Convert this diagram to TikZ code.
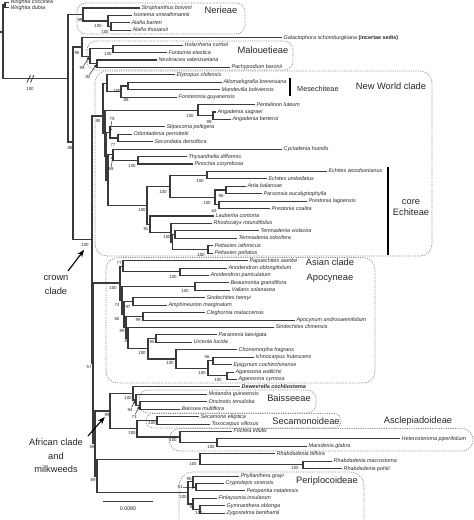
\documentclass[tikz,border=0pt]{standalone}
\usepackage{fontspec}
\setmainfont{Liberation Sans}
\usetikzlibrary{arrows.meta}
\definecolor{ink}{HTML}{262626}
\definecolor{twig}{HTML}{3A3A3A}
\definecolor{hull}{HTML}{8A8A8A}
\tikzset{
  branch/.style={draw=twig,line width=1.1pt},
  taxon/.style={anchor=west,inner sep=1.4pt,text=ink,text height=3.9pt,text depth=1.1pt,font=\fontsize{5.4}{6}\selectfont\itshape},
  bs/.style={inner sep=0pt,text=ink,font=\fontsize{4.4}{5}\selectfont},
  cladebox/.style={draw=hull,line width=0.7pt,dash pattern=on 1.1pt off 1.2pt,rounded corners=9pt},
  cladelbl/.style={inner sep=0pt,text=ink,align=center,font=\fontsize{9.3}{14}\selectfont},
  tribebar/.style={draw=black,line width=1.7pt},
  callout/.style={-{Stealth[length=2.6mm,width=2mm]},line width=1.1pt,draw=black},
  pointer/.style={-{Stealth[length=1.3mm,width=1mm]},line width=0.5pt,draw=ink,shorten <=0.6pt,shorten >=0.5pt},
}
\begin{document}
\begin{tikzpicture}[x=1pt,y=-1pt]
  \useasboundingbox (0,0) rectangle (474,520);
  \clip (0,0) rectangle (474,520);

  % clade hulls
  \draw[cladebox] (77,3) rectangle (245,34);
  \draw[cladebox] (87,41) rectangle (293,70);
  \draw[cladebox,rounded corners=12pt] (95,71) rectangle (432,256);
  \draw[cladebox,rounded corners=12pt] (106,257.5) rectangle (375,383);
  \draw[cladebox] (139,390) rectangle (316,413);
  \draw[cladebox,rounded corners=7pt] (146,413.5) rectangle (341,428);
  \draw[cladebox,rounded corners=11pt] (169,428.5) rectangle (473,451);
  \draw[cladebox,rounded corners=14pt] (179,472) rectangle (364,545);

  % outgroup and root
  \coordinate (rt) at (3,32);
  \coordinate (wri) at (5,4.8);
  \node[taxon] (wrco) at (9,2.2) {Wrightia coccinea};
  \node[taxon] (wrdu) at (9,7.8) {Wrightia dubia};
  \coordinate (n0) at (68,78.8);
  \draw[branch] (0,32) -- (rt);
  \draw[branch] (rt) |- (wri) (wri) |- (wrco.west) (wri) |- (wrdu.west);
  \draw[branch] (rt) |- (n0);
  \draw[twig,line width=0.8pt] (27,82.5) -- (30.5,75) (30.5,82.5) -- (34,75);

  % Nerieae
  \coordinate (ner) at (83,14.5);
  \coordinate (ia) at (108,21);
  \coordinate (ala) at (111,26.6);
  \node[taxon] (stro) at (140,8.0) {Strophanthus boivinii};
  \node[taxon] (ison) at (132,15.4) {Isonema smeathmannii};
  \node[taxon] (alba) at (130,22.9) {Alafia barteri};
  \node[taxon] (alth) at (131,30.3) {Alafia thouarsii};
  \coordinate (n1) at (73,142);
  \draw[branch] (n0) |- (ner) (n0) |- (n1);
  \draw[branch] (ner) |- (stro.west) (ner) |- (ia) (ia) |- (ison.west) (ia) |- (ala)
    (ala) |- (alba.west) (ala) |- (alth.west);

  % Galactophora and Malouetieae
  \coordinate (n2) at (82,47);
  \coordinate (mal) at (90,56.3);
  \coordinate (hf) at (113,48.9);
  \coordinate (np) at (97,63.7);
  \node[taxon] (gala) at (282,37.7) {Galactophora schomburgkiana \textbf{\upshape(incertae sedis)}};
  \node[taxon] (hola) at (183,45.2) {Holarrhena curtisii};
  \node[taxon] (funt) at (167,52.6) {Funtumia elastica};
  \node[taxon] (neob) at (157,60.0) {Neobracea valenzuelana};
  \node[taxon] (pach) at (230,67.4) {Pachypodium baronii};
  \coordinate (c0) at (92,239.5);
  \draw[branch] (n1) |- (n2) (n1) |- (c0);
  \draw[branch] (n2) |- (gala.west) (n2) |- (mal) (mal) |- (hf) (mal) |- (np)
    (hf) |- (hola.west) (hf) |- (funt.west) (np) |- (neob.west) (np) |- (pach.west);

  % New World clade
  \coordinate (nw0) at (103,116);
  \coordinate (ely) at (107,83.3);
  \coordinate (mf) at (121,91.6);
  \coordinate (mes) at (128,86);
  \coordinate (nwb) at (105,133);
  \coordinate (pena) at (198,110.2);
  \coordinate (ang) at (213,115.7);
  \coordinate (nwc) at (106,156);
  \coordinate (sos) at (110,132.5);
  \coordinate (os) at (118,138);
  \coordinate (nwd) at (108,180);
  \coordinate (ctp) at (113,154.8);
  \coordinate (tp) at (138,160.3);
  \node[taxon] (elyt) at (175,74.9) {Elytropus chilensis};
  \node[taxon] (allo) at (222,82.3) {Allomarkgrafia brenesiana};
  \node[taxon] (mand) at (220,89.7) {Mandevilla boliviensis};
  \node[taxon] (fors) at (177,97.2) {Forsteronia guyanensis};
  \node[taxon] (pent) at (255,104.6) {Pentalinon luteum};
  \node[taxon] (angs) at (216,112.0) {Angadenia sagraei};
  \node[taxon] (angb) at (231,119.5) {Angadenia berteroi};
  \node[taxon] (stip) at (165,126.9) {Stipecoma peltigera};
  \node[taxon] (odon) at (132,134.3) {Odontadenia perrottetii};
  \node[taxon] (seco) at (153,141.7) {Secondatia densiflora};
  \node[taxon] (cycl) at (282,149.2) {Cycladenia humilis};
  \node[taxon] (thys) at (187,156.6) {Thysanthella difformis};
  \node[taxon] (pino) at (193,164.0) {Pinochia corymbosa};
  \draw[branch] (c0) |- (nw0) (nw0) |- (ely) (nw0) |- (nwb);
  \draw[branch] (ely) |- (elyt.west) (ely) |- (mf) (mf) |- (mes) (mf) |- (fors.west)
    (mes) |- (allo.west) (mes) |- (mand.west);
  \draw[branch] (nwb) |- (pena) (nwb) |- (nwc) (pena) |- (pent.west) (pena) |- (ang)
    (ang) |- (angs.west) (ang) |- (angb.west);
  \draw[branch] (nwc) |- (sos) (nwc) |- (nwd) (sos) |- (stip.west) (sos) |- (os)
    (os) |- (odon.west) (os) |- (seco.west);
  \draw[branch] (nwd) |- (ctp) (ctp) |- (cycl.west) (ctp) |- (tp)
    (tp) |- (thys.west) (tp) |- (pino.west);

  % core Echiteae
  \coordinate (ce) at (147,205.4);
  \coordinate (ea) at (170,186.4);
  \coordinate (ee) at (207,175.2);
  \coordinate (ap) at (215,197.5);
  \coordinate (ab) at (226,190);
  \coordinate (pr) at (219,204.9);
  \coordinate (eb) at (150,224.4);
  \coordinate (ec) at (171,232.8);
  \coordinate (ed) at (172.5,242);
  \coordinate (tem) at (175,234.6);
  \coordinate (pel) at (208,249.5);
  \node[taxon] (echw) at (327,171.5) {Echites woodsonianus};
  \node[taxon] (echu) at (267,178.9) {Echites umbellatus};
  \node[taxon] (arti) at (246,186.3) {Artia balansae};
  \node[taxon] (pars) at (262,193.8) {Parsonsia eucalyptophylla};
  \node[taxon] (prel) at (307,201.2) {Prestonia lagoensis};
  \node[taxon] (prec) at (270,208.6) {Prestonia coalita};
  \node[taxon] (laub) at (214,216.0) {Laubertia contorta};
  \node[taxon] (rhod) at (212,223.5) {Rhodocalyx rotundifolius};
  \node[taxon] (temv) at (259,230.9) {Temnadenia violacea};
  \node[taxon] (temo) at (237,238.3) {Temnadenia odorifera};
  \node[taxon] (peli) at (213,245.8) {Peltastes isthmicus};
  \node[taxon] (pelp) at (213,253.2) {Peltastes peltatus};
  \draw[branch] (nwd) |- (ce) (ce) |- (ea) (ce) |- (eb);
  \draw[branch] (ea) |- (ee) (ea) |- (ap) (ee) |- (echw.west) (ee) |- (echu.west)
    (ap) |- (ab) (ap) |- (pr) (ab) |- (arti.west) (ab) |- (pars.west)
    (pr) |- (prel.west) (pr) |- (prec.west);
  \draw[branch] (eb) |- (laub.west) (eb) |- (ec) (ec) |- (rhod.west) (ec) |- (ed)
    (ed) |- (tem) (ed) |- (pel) (tem) |- (temv.west) (tem) |- (temo.west)
    (pel) |- (peli.west) (pel) |- (pelp.west);

  % Asian clade
  \coordinate (c1) at (93,363);
  \coordinate (a0) at (120,283);
  \coordinate (pa) at (123,266.2);
  \coordinate (anod) at (180,271.8);
  \coordinate (a1) at (122,300);
  \coordinate (bv) at (195,286.6);
  \coordinate (a2) at (124,314);
  \coordinate (sa) at (133,301.5);
  \coordinate (a3) at (126,327);
  \coordinate (ca) at (143,316.4);
  \coordinate (a4) at (128,338);
  \coordinate (ay) at (148,348.8);
  \coordinate (pu) at (156,338.7);
  \coordinate (az) at (176,359);
  \coordinate (iea) at (208,368.3);
  \coordinate (ie) at (213,360.9);
  \coordinate (ag) at (227,375.8);
  \node[taxon] (papu) at (248,260.6) {Papuechites aambe};
  \node[taxon] (anoo) at (227,268.1) {Anodendron oblongifolium};
  \node[taxon] (anop) at (209,275.5) {Anodendron paniculatum};
  \node[taxon] (beau) at (229,282.9) {Beaumontia grandiflora};
  \node[taxon] (vall) at (230,290.3) {Vallaris solanacea};
  \node[taxon] (sinh) at (205,297.8) {Sindechites henryi};
  \node[taxon] (amph) at (167,305.2) {Amphineurion marginatum};
  \node[taxon] (cleg) at (205,312.6) {Cleghornia malaccensis};
  \node[taxon] (apoc) at (295,320.1) {Apocynum androsaemifolium};
  \node[taxon] (sinc) at (274,327.5) {Sindechites chinensis};
  \node[taxon] (para) at (217,334.9) {Parameria laevigata};
  \node[taxon] (urce) at (192,342.4) {Urceola lucida};
  \node[taxon] (chon) at (237,349.8) {Chonemorpha fragrans};
  \node[taxon] (ichn) at (254,357.2) {Ichnocarpus frutescens};
  \node[taxon] (epig) at (232,364.6) {Epigynum cochinchinense};
  \node[taxon] (agaw) at (234,372.1) {Aganosma wallichii};
  \node[taxon] (agac) at (237,379.5) {Aganosma cymosa};
  \draw[branch] (c0) |- (c1) (c1) |- (a0);
  \draw[branch] (a0) |- (pa) (a0) |- (a1) (pa) |- (papu.west) (pa) |- (anod)
    (anod) |- (anoo.west) (anod) |- (anop.west);
  \draw[branch] (a1) |- (bv) (a1) |- (a2) (bv) |- (beau.west) (bv) |- (vall.west)
    (a2) |- (sa) (a2) |- (a3) (sa) |- (sinh.west) (sa) |- (amph.west)
    (a3) |- (ca) (a3) |- (a4) (ca) |- (cleg.west) (ca) |- (apoc.west)
    (a4) |- (sinc.west) (a4) |- (ay);
  \draw[branch] (ay) |- (pu) (ay) |- (az) (pu) |- (para.west) (pu) |- (urce.west)
    (az) |- (chon.west) (az) |- (iea) (iea) |- (ie) (iea) |- (ag)
    (ie) |- (ichn.west) (ie) |- (epig.west) (ag) |- (agaw.west) (ag) |- (agac.west);

  % African clade and milkweeds
  \coordinate (c2) at (95,443.5);
  \coordinate (af) at (110,411);
  \coordinate (bd) at (133,393.4);
  \coordinate (bai) at (136,400);
  \coordinate (ob) at (140,405.5);
  \coordinate (mw) at (137,428.7);
  \coordinate (sec) at (157,420.4);
  \coordinate (asc) at (180,437);
  \coordinate (hm) at (217,442.6);
  \node[taxon,font=\fontsize{5.4}{6}\selectfont\itshape\bfseries] (dewe) at (240,386.9) {Dewevrella cochliostema};
  \node[taxon] (mota) at (207,394.4) {Motandra guineensis};
  \node[taxon] (onci) at (207,401.8) {Oncinotis tenuiloba};
  \node[taxon] (bais) at (180,409.2) {Baissea multiflora};
  \node[taxon] (seca) at (199,416.7) {Secamone elliptica};
  \node[taxon] (toxo) at (210,424.1) {Toxocarpus villosus};
  \node[taxon] (fock) at (232,431.5) {Fockea edulis};
  \node[taxon] (hete) at (400,438.9) {Heterostemma piperifolium};
  \node[taxon] (mars) at (307,446.4) {Marsdenia glabra};
  \draw[branch] (c1) |- (c2) (c2) |- (af) (af) |- (bd) (af) |- (mw);
  \draw[branch] (bd) |- (dewe.west) (bd) |- (bai) (bai) |- (mota.west) (bai) |- (ob)
    (ob) |- (onci.west) (ob) |- (bais.west);
  \draw[branch] (mw) |- (sec) (mw) |- (asc) (sec) |- (seca.west) (sec) |- (toxo.west)
    (asc) |- (fock.west) (asc) |- (hm) (hm) |- (hete.west) (hm) |- (mars.west);

  % Rhabdadenia and Periplocoideae
  \coordinate (c3) at (97,476);
  \coordinate (rh) at (200,459.4);
  \coordinate (mp) at (303,464.9);
  \coordinate (per) at (188,492.8);
  \coordinate (pcp) at (193,481.7);
  \coordinate (cp) at (196,487.2);
  \coordinate (fgz) at (193,504);
  \coordinate (gz) at (200,509.5);
  \node[taxon] (rhbi) at (275,453.8) {Rhabdadenia biflora};
  \node[taxon] (rhma) at (332,461.2) {Rhabdadenia macrostoma};
  \node[taxon] (rhpo) at (342,468.7) {Rhabdadenia pohlii};
  \node[taxon] (phyl) at (239,476.1) {Phyllanthera grayi};
  \node[taxon] (cryp) at (224,483.5) {Cryptolepis sinensis};
  \node[taxon] (peto) at (245,490.9) {Petopentia natalensis};
  \node[taxon] (finl) at (217,498.4) {Finlaysonia insularum};
  \node[taxon] (gymn) at (225,505.8) {Gymnanthera oblonga};
  \node[taxon] (zygo) at (225,513.2) {Zygostelma benthamii};
  \draw[branch] (c2) |- (c3) (c3) |- (rh) (c3) |- (per);
  \draw[branch] (rh) |- (rhbi.west) (rh) |- (mp) (mp) |- (rhma.west) (mp) |- (rhpo.west);
  \draw[branch] (per) |- (pcp) (per) |- (fgz) (pcp) |- (phyl.west) (pcp) |- (cp)
    (cp) |- (cryp.west) (cp) |- (peto.west) (fgz) |- (finl.west) (fgz) |- (gz)
    (gz) |- (gymn.west) (gz) |- (zygo.west);

  % support values
  \node[bs] (bsin) at (30,89) {100};
  \node[bs] (bsner) at (80,20) {99};
  \node[bs] (bsia) at (98,25.5) {100};
  \node[bs] (bsala) at (105,31.5) {100};
  \node[bs] (bsn1) at (70,148) {85};
  \node[bs] (bsn2) at (77,53) {95};
  \node[bs] (bshf) at (108,53.5) {100};
  \node[bs] (bsmal) at (82,68) {99};
  \node[bs] (bsnp) at (88,77) {82};
  \node[bs] (bsnw0) at (98,121) {90};
  \node[bs] (bsmes) at (117,91) {100};
  \node[bs] (bsmf) at (126,100) {88};
  \node[bs] (bspena) at (190,115.5) {100};
  \node[bs] (bsang) at (209,121.5) {99};
  \node[bs] (bssos) at (112,119) {79};
  \node[bs] (bsos) at (113,144.5) {77};
  \node[bs] (bsctp) at (111,169) {69};
  \node[bs] (bstp) at (132,166) {100};
  \node[bs] (bsce) at (142,209.5) {100};
  \node[bs] (bsee) at (200,181) {100};
  \node[bs] (bsea) at (163,191.5) {100};
  \node[bs] (bsab) at (221,196) {96};
  \node[bs] (bsap) at (207,202.5) {100};
  \node[bs] (bspr) at (214,210.5) {63};
  \node[bs] (bseb) at (146,228.5) {81};
  \node[bs] (bstem) at (167,236.5) {100};
  \node[bs] (bspel) at (201,254.5) {100};
  \node[bs] (bsc0) at (85,245) {100};
  \node[bs] (bsa0) at (113,288) {100};
  \node[bs] (bspa) at (119,263) {77};
  \node[bs] (bsanod) at (173,277) {100};
  \node[bs] (bsbv) at (185,290.5) {100};
  \node[bs] (bsa1) at (117,305) {74};
  \node[bs] (bssa) at (128,307) {97};
  \node[bs] (bsa2) at (117,318.5) {60};
  \node[bs] (bsca) at (138,320) {99};
  \node[bs] (bsa3) at (122,330.5) {89};
  \node[bs] (bsa4) at (127,341) {84};
  \node[bs] (bspu) at (152,342) {95};
  \node[bs] (bsay) at (142,353) {100};
  \node[bs] (bsaz) at (170,363) {100};
  \node[bs] (bsie) at (207,357) {56};
  \node[bs] (bsiea) at (202,373) {100};
  \node[bs] (bsag) at (218,380) {100};
  \node[bs] (bsc1) at (89,367) {57};
  \node[bs] (bsc2) at (92,447) {56};
  \node[bs] (bsc3) at (93,480) {69};
  \node[bs] (bsaf) at (107,415) {99};
  \node[bs] (bsbd) at (128,397.5) {100};
  \node[bs] (bsbai) at (130,409.5) {94};
  \node[bs] (bsob) at (134,416.5) {73};
  \node[bs] (bssec) at (152,422.5) {100};
  \node[bs] (bsmw) at (132,432.5) {100};
  \node[bs] (bsasc) at (173,440) {100};
  \node[bs] (bshm) at (211,447) {100};
  \node[bs] (bsrh) at (193,463.5) {100};
  \node[bs] (bsmp) at (295,467.5) {100};
  \node[bs] (bspcp) at (189,478.5) {90};
  \node[bs] (bscp) at (180,487.5) {51};
  \node[bs] (bsper) at (183,496.5) {100};
  \node[bs] (bsfgz) at (192,507) {96};
  \node[bs] (bsgz) at (199,512.5) {100};
  \draw[pointer] (bsmal) -- (mal);
  \draw[pointer] (bsnp) -- (np);
  \draw[pointer] (bssos) -- (sos);
  \draw[pointer] (bsctp) -- (ctp);
  \draw[pointer] (bsbai) -- (bai);
  \draw[pointer] (bsob) -- (ob);
  \draw[pointer] (bscp) -- (cp);

  % clade names, bars and callouts
  \node[cladelbl] (nerlbl) at (221,10.5) {Nerieae};
  \node[cladelbl] (mallbl) at (263,50) {Malouetieae};
  \node[cladelbl] (nwlbl) at (391,86) {New World clade};
  \draw[tribebar] (290,78) -- (290,95.5);
  \node[cladelbl,anchor=west,font=\fontsize{7.3}{8}\selectfont] (meslbl) at (297,89) {Mesechiteae};
  \draw[tribebar] (388,167) -- (388,255);
  \node[cladelbl,font=\fontsize{9.3}{10.5}\selectfont] (celbl) at (411,207.5) {core\\Echiteae};
  \node[cladelbl,font=\fontsize{9.3}{15}\selectfont] (aslbl) at (330,271) {Asian clade\\Apocyneae};
  \node[cladelbl] (bailbl) at (289,398.5) {Baisseeae};
  \node[cladelbl] (seclbl) at (306,421) {Secamonoideae};
  \node[cladelbl] (asclbl) at (418,421) {Asclepiadoideae};
  \node[cladelbl] (perlbl) at (327,481) {Periplocoideae};
  \node[cladelbl] (crlbl) at (56,285.5) {crown\\clade};
  \node[cladelbl,font=\fontsize{9.3}{13.5}\selectfont] (aflbl) at (56,456) {African clade\\and\\milkweeds};
  \coordinate (crtail) at (68,271);
  \coordinate (aftail) at (88,436);
  \draw[callout,shorten >=13pt] (crtail) -- (c0);
  \draw[callout,shorten >=8pt] (aftail) -- (af);

  % scale bar
  \coordinate (sbl) at (103,501);
  \coordinate (sbr) at (153,501);
  \draw[branch,line width=0.9pt] (sbl) -- (sbr);
  \node[bs,font=\fontsize{5.3}{6}\selectfont] (sblbl) at (128,509) {0.0080};
\end{tikzpicture}
\end{document}
